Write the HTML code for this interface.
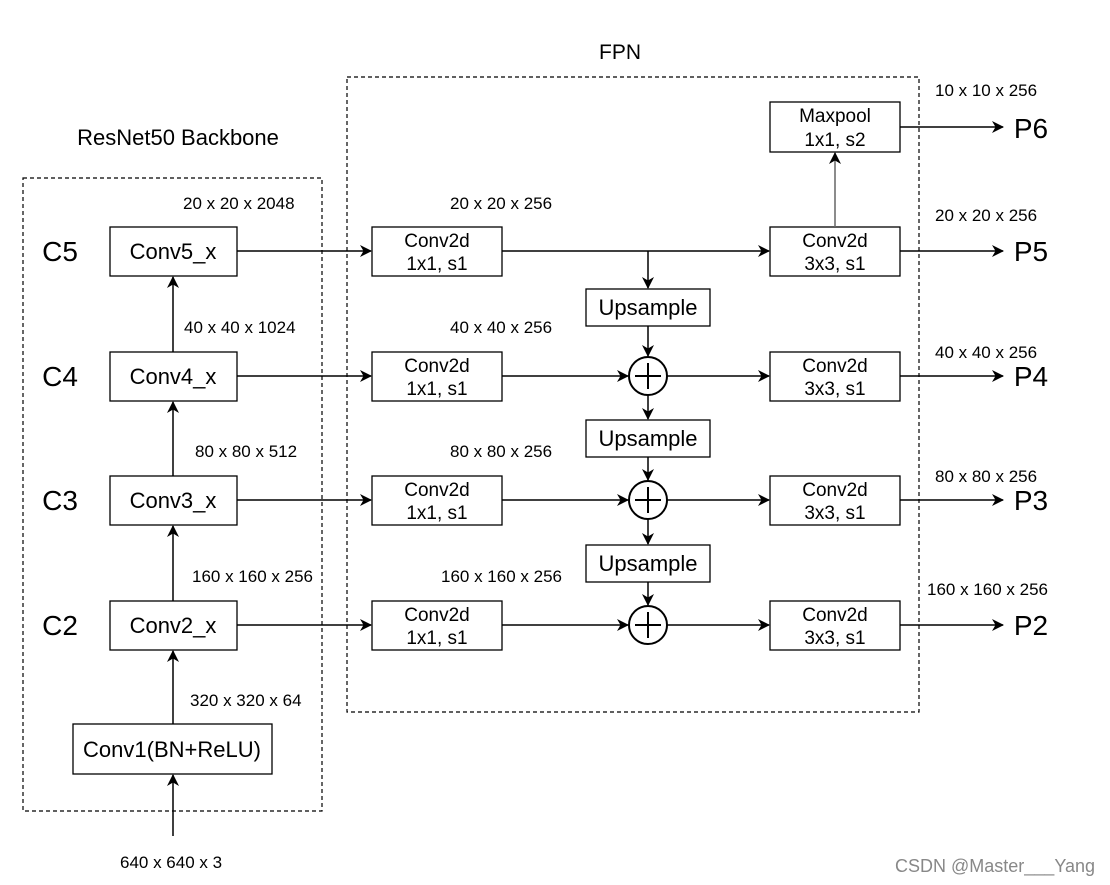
<!DOCTYPE html>
<html><head><meta charset="utf-8"><style>
html,body{margin:0;padding:0;background:#fff;}
svg{display:block;font-family:"Liberation Sans",Arial,sans-serif;}
</style></head><body>
<svg width="1110" height="885" viewBox="0 0 1110 885" xmlns="http://www.w3.org/2000/svg">
<defs>
<marker id="a" markerWidth="12" markerHeight="12" refX="11" refY="6" orient="auto" markerUnits="userSpaceOnUse">
<path d="M0,0 L12,6 L0,12 L3.5,6 z" fill="#000"/></marker>
</defs>
<rect width="1110" height="885" fill="#fff"/>
<g fill="none" stroke="#000" stroke-width="1.2" stroke-dasharray="4,3">
<rect x="23" y="178" width="299" height="633"/>
<rect x="347" y="77" width="572" height="635"/>
</g>
<g font-size="21" fill="#000" text-anchor="middle">
<text x="620" y="59">FPN</text>
<text x="178" y="145" font-size="22">ResNet50 Backbone</text>
</g>
<g font-size="28" fill="#000" text-anchor="middle">
<text x="60" y="261">C5</text><text x="60" y="386">C4</text>
<text x="60" y="510">C3</text><text x="60" y="635">C2</text>
<text x="1031" y="138">P6</text><text x="1031" y="261">P5</text>
<text x="1031" y="386">P4</text><text x="1031" y="510">P3</text>
<text x="1031" y="635">P2</text>
</g>
<g fill="#fff" stroke="#000" stroke-width="1.3">
<rect x="110" y="227" width="127" height="49"/>
<rect x="110" y="352" width="127" height="49"/>
<rect x="110" y="476" width="127" height="49"/>
<rect x="110" y="601" width="127" height="49"/>
<rect x="73" y="724" width="199" height="50"/>
<rect x="372" y="227" width="130" height="49"/>
<rect x="372" y="352" width="130" height="49"/>
<rect x="372" y="476" width="130" height="49"/>
<rect x="372" y="601" width="130" height="49"/>
<rect x="770" y="227" width="130" height="49"/>
<rect x="770" y="352" width="130" height="49"/>
<rect x="770" y="476" width="130" height="49"/>
<rect x="770" y="601" width="130" height="49"/>
<rect x="770" y="102" width="130" height="50"/>
<rect x="586" y="289" width="124" height="37"/>
<rect x="586" y="420" width="124" height="37"/>
<rect x="586" y="545" width="124" height="37"/>
</g>
<g font-size="22" fill="#000" text-anchor="middle">
<text x="173" y="259">Conv5_x</text><text x="173" y="384">Conv4_x</text>
<text x="173" y="508">Conv3_x</text><text x="173" y="633">Conv2_x</text>
<text x="172" y="757">Conv1(BN+ReLU)</text>
<text x="648" y="315">Upsample</text><text x="648" y="446">Upsample</text>
<text x="648" y="571">Upsample</text>
</g>
<g font-size="19" fill="#000" text-anchor="middle">
<text x="437" y="247">Conv2d</text><text x="437" y="270">1x1, s1</text>
<text x="437" y="372">Conv2d</text><text x="437" y="395">1x1, s1</text>
<text x="437" y="496">Conv2d</text><text x="437" y="519">1x1, s1</text>
<text x="437" y="621">Conv2d</text><text x="437" y="644">1x1, s1</text>
<text x="835" y="247">Conv2d</text><text x="835" y="270">3x3, s1</text>
<text x="835" y="372">Conv2d</text><text x="835" y="395">3x3, s1</text>
<text x="835" y="496">Conv2d</text><text x="835" y="519">3x3, s1</text>
<text x="835" y="621">Conv2d</text><text x="835" y="644">3x3, s1</text>
<text x="835" y="122">Maxpool</text><text x="835" y="146">1x1, s2</text>
</g>
<g font-size="17" fill="#000">
<text x="183" y="209">20 x 20 x 2048</text>
<text x="184" y="333">40 x 40 x 1024</text>
<text x="195" y="457">80 x 80 x 512</text>
<text x="192" y="582">160 x 160 x 256</text>
<text x="190" y="706">320 x 320 x 64</text>
<text x="120" y="868">640 x 640 x 3</text>
<text x="450" y="209">20 x 20 x 256</text>
<text x="450" y="333">40 x 40 x 256</text>
<text x="450" y="457">80 x 80 x 256</text>
<text x="441" y="582">160 x 160 x 256</text>
<text x="935" y="96">10 x 10 x 256</text>
<text x="935" y="221">20 x 20 x 256</text>
<text x="935" y="358">40 x 40 x 256</text>
<text x="935" y="482">80 x 80 x 256</text>
<text x="927" y="595">160 x 160 x 256</text>
</g>
<g stroke="#000" stroke-width="1.5" fill="none" marker-end="url(#a)">
<line x1="173" y1="836" x2="173" y2="775"/>
<line x1="173" y1="724" x2="173" y2="651"/>
<line x1="173" y1="601" x2="173" y2="526"/>
<line x1="173" y1="476" x2="173" y2="402"/>
<line x1="173" y1="352" x2="173" y2="277"/>
<line x1="237" y1="251" x2="371" y2="251"/>
<line x1="237" y1="376" x2="371" y2="376"/>
<line x1="237" y1="500" x2="371" y2="500"/>
<line x1="237" y1="625" x2="371" y2="625"/>
<line x1="502" y1="251" x2="769" y2="251"/>
<line x1="648" y1="251" x2="648" y2="288"/>
<line x1="648" y1="326" x2="648" y2="356"/>
<line x1="502" y1="376" x2="628" y2="376"/>
<line x1="667" y1="376" x2="769" y2="376"/>
<line x1="648" y1="395" x2="648" y2="419"/>
<line x1="648" y1="457" x2="648" y2="480"/>
<line x1="502" y1="500" x2="628" y2="500"/>
<line x1="667" y1="500" x2="769" y2="500"/>
<line x1="648" y1="519" x2="648" y2="544"/>
<line x1="648" y1="582" x2="648" y2="605"/>
<line x1="502" y1="625" x2="628" y2="625"/>
<line x1="667" y1="625" x2="769" y2="625"/>
<line x1="835" y1="227" x2="835" y2="153" stroke="#666"/>
<line x1="900" y1="127" x2="1003" y2="127"/>
<line x1="900" y1="251" x2="1003" y2="251"/>
<line x1="900" y1="376" x2="1003" y2="376"/>
<line x1="900" y1="500" x2="1003" y2="500"/>
<line x1="900" y1="625" x2="1003" y2="625"/>
</g>
<g stroke="#000" stroke-width="2" fill="#fff">
<circle cx="648" cy="376" r="19"/><circle cx="648" cy="500" r="19"/><circle cx="648" cy="625" r="19"/>
</g>
<g stroke="#000" stroke-width="2">
<line x1="635" y1="376" x2="661" y2="376"/><line x1="648" y1="363" x2="648" y2="389"/>
<line x1="635" y1="500" x2="661" y2="500"/><line x1="648" y1="487" x2="648" y2="513"/>
<line x1="635" y1="625" x2="661" y2="625"/><line x1="648" y1="612" x2="648" y2="638"/>
</g>
<text x="895" y="872" font-size="18" fill="#888">CSDN @Master___Yang</text>
</svg>
</body></html>
